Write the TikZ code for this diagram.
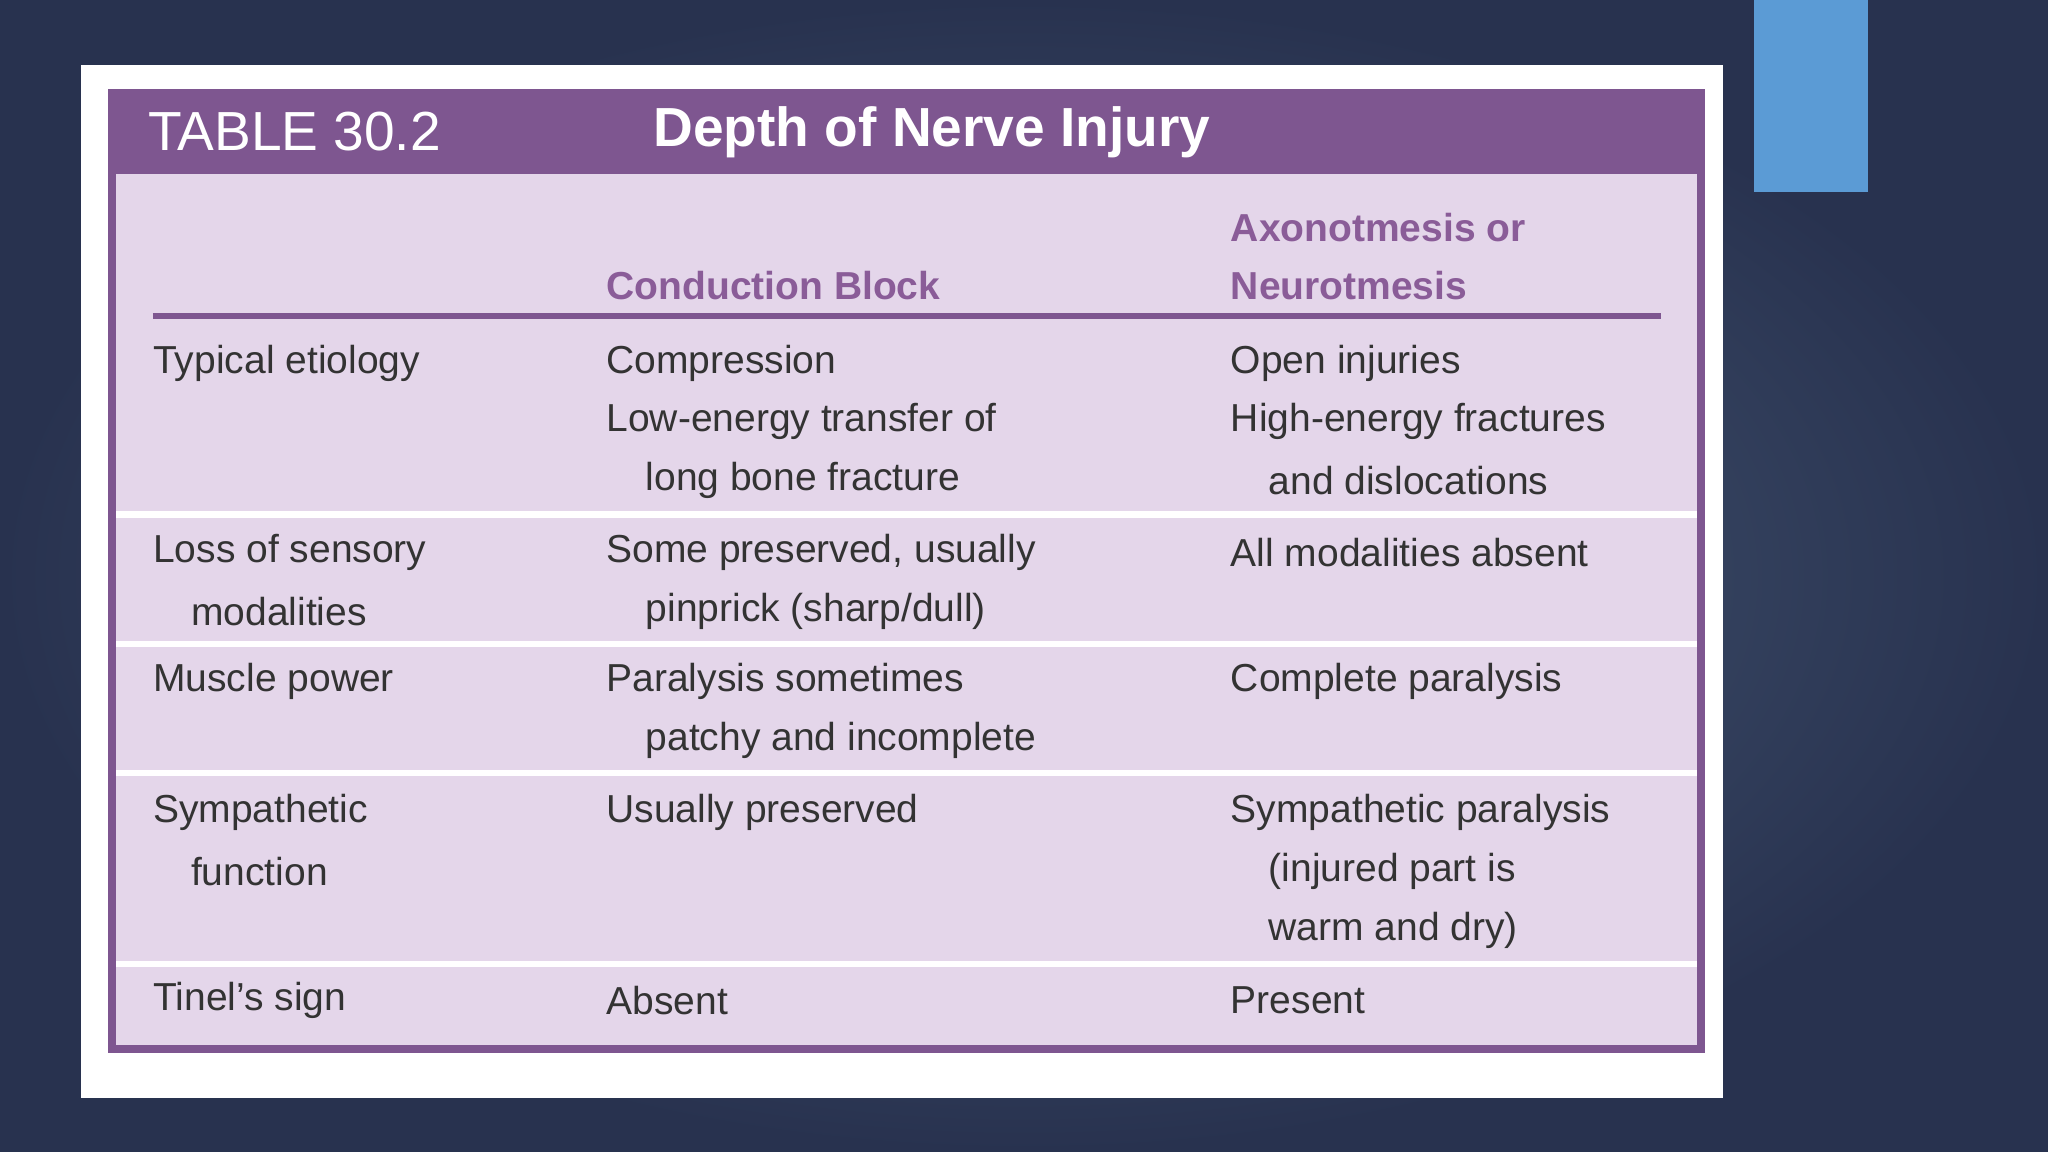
\documentclass[tikz,border=0pt]{standalone}
\usepackage{fontspec}
\setmainfont{Liberation Sans}
\begin{document}
\begin{tikzpicture}[x=0.02cm,y=-0.02cm,
  txt/.style={anchor=west,inner sep=0pt,text=black!80,font=\fontsize{17}{20}\selectfont},
  hd/.style={anchor=west,inner sep=0pt,text=hdpurple,font=\fontsize{17}{20}\selectfont\bfseries}]
\definecolor{bgA}{HTML}{4A5E7A}\definecolor{bgB}{HTML}{28324F}
\definecolor{hdpurple}{HTML}{8A5C98}\definecolor{band}{HTML}{7E5690}
\definecolor{body}{HTML}{E4D6EA}\definecolor{sq}{HTML}{5B9BD5}
\useasboundingbox (0,0) rectangle (1568,882);
\shade[inner color=bgA,outer color=bgB] (0,0) rectangle (1568,882);
\fill[sq] (1343,0) rectangle (1430,147);
\fill[white] (62,50) rectangle (1319,841);
\fill[band] (83,68) rectangle (1305,806);
\fill[body] (89,133) rectangle (1299,800);
\foreach \y in {394,493,592,738} \fill[white] (89,\y-2.5) rectangle (1299,\y+2.5);
\draw[band,line width=2.5pt] (117,242) -- (1272,242);
\node[anchor=west,inner sep=0pt,text=white,font=\fontsize{24}{28}\selectfont] (t1) at (113,101) {TABLE 30.2};
\node[anchor=west,inner sep=0pt,text=white,font=\fontsize{24}{28}\selectfont\bfseries] (t2) at (500,101) {Depth of Nerve Injury};
\node[hd] (h1) at (464,219) {Conduction Block};
\node[hd] (h2) at (942,174) {Axonotmesis or};
\node[hd] (h3) at (942,219) {Neurotmesis};
\node[txt] (a1) at (117,278) {Typical etiology};
\node[txt] (a2) at (464,278) {Compression};
\node[txt] (a3) at (464,323) {Low-energy transfer of};
\node[txt] (a4) at (494,368) {long bone fracture};
\node[txt] (a5) at (942,278) {Open injuries};
\node[txt] (a6) at (942,323) {High-energy fractures};
\node[txt] (a7) at (971,368) {and dislocations};
\node[txt] (b1) at (117,423) {Loss of sensory};
\node[txt] (b2) at (146,468) {modalities};
\node[txt] (b3) at (464,423) {Some preserved, usually};
\node[txt] (b4) at (494,468) {pinprick (sharp/dull)};
\node[txt] (b5) at (942,423) {All modalities absent};
\node[txt] (c1) at (117,522) {Muscle power};
\node[txt] (c2) at (464,522) {Paralysis sometimes};
\node[txt] (c3) at (494,567) {patchy and incomplete};
\node[txt] (c4) at (942,522) {Complete paralysis};
\node[txt] (d1) at (117,622) {Sympathetic};
\node[txt] (d2) at (146,667) {function};
\node[txt] (d3) at (464,622) {Usually preserved};
\node[txt] (d4) at (942,622) {Sympathetic paralysis};
\node[txt] (d5) at (971,667) {(injured part is};
\node[txt] (d6) at (971,712) {warm and dry)};
\node[txt] (e1) at (117,766) {Tinel’s sign};
\node[txt] (e2) at (464,766) {Absent};
\node[txt] (e3) at (942,766) {Present};
\end{tikzpicture}
\end{document}
